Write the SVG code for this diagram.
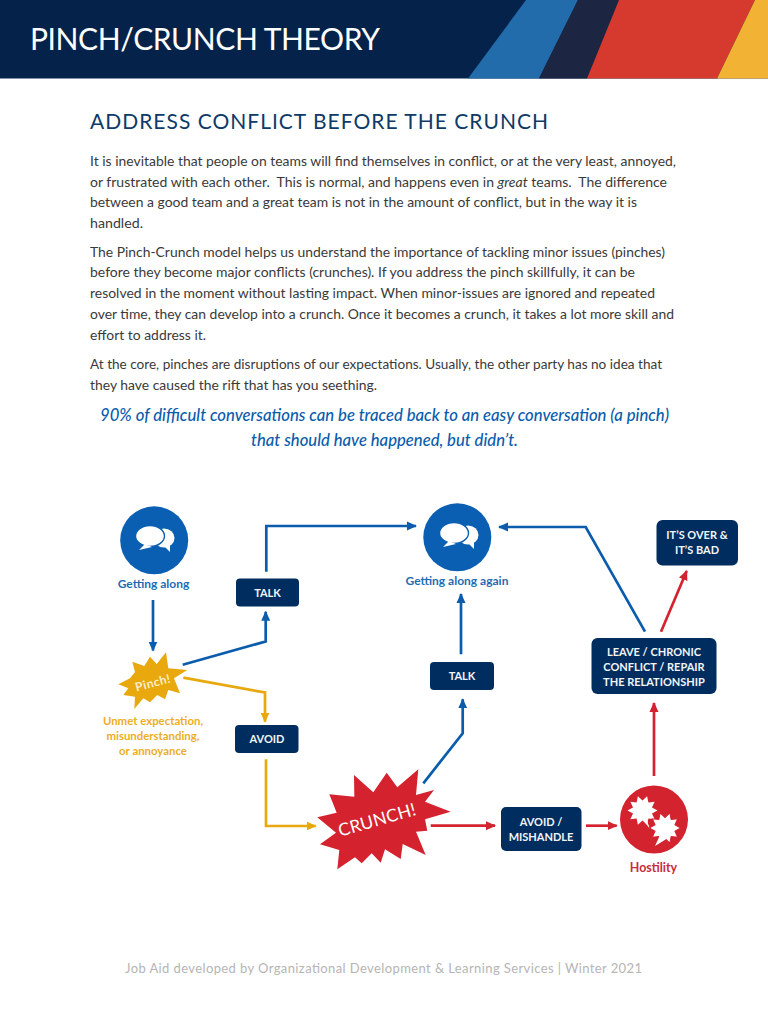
<svg xmlns="http://www.w3.org/2000/svg" width="768" height="1024" viewBox="0 0 768 1024">
<style>
text{font-family:Lato,"Liberation Sans",sans-serif}
.b{font-size:13.6px;fill:#3a3a3a}
.q{font-size:17px;font-style:italic;font-weight:500;fill:#0b5cad;text-anchor:middle}
.box{fill:#002d5f}
.bt{font-size:11px;font-weight:700;fill:#f2f5f8;text-anchor:middle}
.lb{font-size:12px;font-weight:700;fill:#1f6cb2;text-anchor:middle}
.ly{font-size:11.4px;font-weight:700;fill:#edae1f;text-anchor:middle}
.lr{font-size:12.4px;font-weight:700;fill:#c92c3a;text-anchor:middle}
.c{fill:none;stroke-width:2.7;stroke-linejoin:miter}
.cb{stroke:#0b5cad}.cy{stroke:#e8a90f}.cr{stroke:#d2232f}
</style>
<defs>
<marker id="ab" markerUnits="userSpaceOnUse" markerWidth="11" markerHeight="10" refX="9" refY="5" orient="auto"><path d="M0 .5L10 5L0 9.500Z" fill="#0b5cad"/></marker>
<marker id="ay" markerUnits="userSpaceOnUse" markerWidth="11" markerHeight="10" refX="9" refY="5" orient="auto"><path d="M0 .5L10 5L0 9.500Z" fill="#e8a90f"/></marker>
<marker id="ar" markerUnits="userSpaceOnUse" markerWidth="11" markerHeight="10" refX="9" refY="5" orient="auto"><path d="M0 .5L10 5L0 9.500Z" fill="#d2232f"/></marker>
<g id="talkicon">
<ellipse cx="10" cy="-1" rx="10.5" ry="9.5" fill="#fff"/>
<path d="M9 6L16 13L16 5Z" fill="#fff"/>
<ellipse cx="-4" cy="-3" rx="14.500" ry="10.5" fill="#fff" stroke="#0b5fb3" stroke-width="1.4"/>
<path d="M-9 5L-15 11L-2 8Z" fill="#fff"/>
</g>
<polygon id="burst" points="15,0 9.5,3.1 12.1,8.8 5.9,8.1 4.6,14.3 0,10 -4.6,14.3 -5.9,8.1 -12.1,8.8 -9.5,3.1 -15,0 -9.5,-3.1 -12.1,-8.8 -5.9,-8.1 -4.6,-14.3 0,-10 4.6,-14.3 5.9,-8.1 12.1,-8.8 9.5,-3.1"/>
</defs>

<rect width="768" height="78.5" fill="#05234a"/>
<polygon points="526,0 578,0 539,78.5 468,78.5" fill="#236cab"/>
<polygon points="578,0 619,0 587,78.5 539,78.5" fill="#1c2542"/>
<polygon points="619,0 755,0 717,78.5 587,78.5" fill="#d63a2f"/>
<polygon points="755,0 768,0 768,78.5 717,78.5" fill="#f2b233"/>
<text x="30" y="50" font-size="30" fill="#fff" textLength="350" lengthAdjust="spacing">PINCH/CRUNCH THEORY</text>
<text x="90" y="129" font-size="21" fill="#0e3a68" textLength="458" lengthAdjust="spacing">ADDRESS CONFLICT BEFORE THE CRUNCH</text>

<text class="b" x="90" y="166" textLength="586" lengthAdjust="spacingAndGlyphs">It is inevitable that people on teams will find themselves in conflict, or at the very least, annoyed,</text>
<text class="b" x="90" y="187" textLength="577" lengthAdjust="spacingAndGlyphs" style="white-space:pre">or frustrated with each other.  This is normal, and happens even in <tspan font-style="italic">great</tspan> teams.  The difference</text>
<text class="b" x="90" y="207" textLength="547" lengthAdjust="spacingAndGlyphs">between a good team and a great team is not in the amount of conflict, but in the way it is</text>
<text class="b" x="90" y="228" textLength="53" lengthAdjust="spacingAndGlyphs">handled.</text>
<text class="b" x="90" y="257" textLength="575" lengthAdjust="spacingAndGlyphs">The Pinch-Crunch model helps us understand the importance of tackling minor issues (pinches)</text>
<text class="b" x="90" y="277" textLength="545" lengthAdjust="spacingAndGlyphs">before they become major conflicts (crunches). If you address the pinch skillfully, it can be</text>
<text class="b" x="90" y="298" textLength="565" lengthAdjust="spacingAndGlyphs">resolved in the moment without lasting impact. When minor-issues are ignored and repeated</text>
<text class="b" x="90" y="319" textLength="584" lengthAdjust="spacingAndGlyphs">over time, they can develop into a crunch. Once it becomes a crunch, it takes a lot more skill and</text>
<text class="b" x="90" y="340" textLength="116" lengthAdjust="spacingAndGlyphs">effort to address it.</text>
<text class="b" x="90" y="369" textLength="572" lengthAdjust="spacingAndGlyphs">At the core, pinches are disruptions of our expectations. Usually, the other party has no idea that</text>
<text class="b" x="90" y="390" textLength="287" lengthAdjust="spacingAndGlyphs">they have caused the rift that has you seething.</text>
<text class="q" x="384.5" y="421" textLength="569" lengthAdjust="spacingAndGlyphs">90% of difficult conversations can be traced back to an easy conversation (a pinch)</text>
<text class="q" x="384.5" y="446" textLength="267" lengthAdjust="spacingAndGlyphs">that should have happened, but didn’t.</text>

<g id="connectors">
<path class="c cb" marker-end="url(#ab)" d="M153 600V650.5"/>
<path class="c cb" marker-end="url(#ab)" d="M182.7 664.7L265.7 641.5V611.7"/>
<path class="c cb" marker-end="url(#ab)" d="M266.3 571.7V526H416"/>
<path class="c cy" marker-end="url(#ay)" d="M183.3 677.7L265 692.5V721.7"/>
<path class="c cy" marker-end="url(#ay)" d="M266 759.3V826H315.7"/>
<path class="c cb" marker-end="url(#ab)" d="M423.3 783.3L462.7 733.3V699.3"/>
<path class="c cb" marker-end="url(#ab)" d="M461 654.3V594"/>
<path class="c cb" marker-end="url(#ab)" d="M645 631.7L585.7 527H499"/>
<path class="c cr" marker-end="url(#ar)" d="M661 631.7L686.7 571"/>
<path class="c cr" marker-end="url(#ar)" d="M430.7 825.7H495"/>
<path class="c cr" marker-end="url(#ar)" d="M586 825.7H616.7"/>
<path class="c cr" marker-end="url(#ar)" d="M654 776V703"/>
</g>

<g id="getting-along">
<circle cx="154.2" cy="540.3" r="34" fill="#0b5fb3"/>
<use href="#talkicon" transform="translate(154,539)"/>
<text class="lb" x="153.5" y="588">Getting along</text>
</g>
<g id="pinch">
<polygon fill="#e9a90e" points="132.3,661.7 144.3,666 150,656.7 156.7,664 166,652.3 168.3,668.3 187.3,670 174,678.3 180,693.3 168.3,690 165,699.3 157.3,695 150,702.3 143.3,698.3 134.3,709 135,696.700 123.3,695 128.3,688.3 118.3,684.3 130,678.3 135,672"/>
<text x="153" y="687" font-size="12" font-weight="700" fill="#fbeecb" text-anchor="middle" transform="rotate(-15 153 683)" letter-spacing=".5">Pinch!</text>
<text class="ly" x="153" y="725">Unmet expectation,</text>
<text class="ly" x="153" y="740">misunderstanding,</text>
<text class="ly" x="153" y="755">or annoyance</text>
</g>
<g id="talk-1"><rect class="box" x="236" y="578.5" width="63" height="28" rx="4"/><text class="bt" x="267.5" y="596.5">TALK</text></g>
<g id="avoid"><rect class="box" x="235" y="725" width="63.5" height="28" rx="4"/><text class="bt" x="267" y="743">AVOID</text></g>
<g id="crunch">
<polygon fill="#d4232e" points="329.3,794.3 354.3,796.7 354,775 373.3,792.3 386.7,772.7 397.3,787.3 418.3,769.3 416,795 434,790 425,801.7 450.7,811.7 425,819.3 427.3,830.7 416,831.7 425.7,855 402.7,844 400.7,859 385,849.3 380.7,862.7 371.7,853.3 361.7,863.3 355,857.3 337.3,869.3 339.3,850 320,844.3 336,832.700 317.3,817.3 336.7,812.7"/>
<text x="377" y="826" font-size="17.5" fill="#fff" text-anchor="middle" transform="rotate(-16 377 820)" textLength="80" lengthAdjust="spacing">CRUNCH!</text>
</g>
<g id="getting-along-again">
<circle cx="457.3" cy="537.3" r="34" fill="#0b5fb3"/>
<use href="#talkicon" transform="translate(458,536)"/>
<text class="lb" x="457" y="585">Getting along again</text>
</g>
<g id="talk-2"><rect class="box" x="430" y="662" width="64" height="28" rx="4"/><text class="bt" x="462" y="680">TALK</text></g>
<g id="avoid-mishandle"><rect class="box" x="501" y="807" width="80.5" height="44" rx="5"/><text class="bt" x="541" y="826">AVOID /</text><text class="bt" x="541" y="840.5">MISHANDLE</text></g>
<g id="hostility">
<circle cx="654" cy="819.5" r="34" fill="#d2232f"/>
<use href="#burst" transform="translate(642.5,810.5)" fill="#fff"/>
<path d="M643 820L650 829L646 818Z" fill="#fff"/>
<use href="#burst" transform="translate(665,828) scale(1.05)" fill="#fff" stroke="#d2232f" stroke-width="1"/>
<path d="M660 835L655 846L668 838Z" fill="#fff"/>
<text class="lr" x="653.5" y="872">Hostility</text>
</g>
<g id="leave"><rect class="box" x="591.5" y="638" width="125" height="56" rx="6"/><text class="bt" x="654" y="656">LEAVE / CHRONIC</text><text class="bt" x="654" y="671">CONFLICT / REPAIR</text><text class="bt" x="654" y="686">THE RELATIONSHIP</text></g>
<g id="over"><rect class="box" x="656.5" y="520" width="81.5" height="45.5" rx="6"/><text class="bt" x="697" y="539">IT’S OVER &amp;</text><text class="bt" x="697" y="553.5">IT’S BAD</text></g>

<text x="383.5" y="973" font-size="13" fill="#b5b5b5" text-anchor="middle" textLength="517" lengthAdjust="spacing">Job Aid developed by Organizational Development &amp; Learning Services | Winter 2021</text>
</svg>
